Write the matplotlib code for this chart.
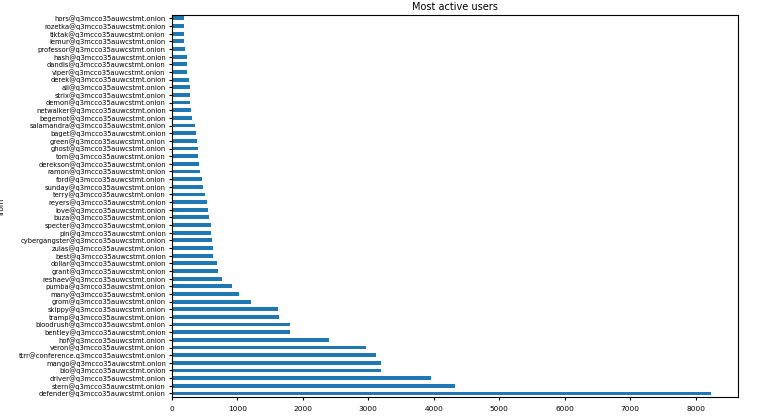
import matplotlib
matplotlib.use("Agg")
import matplotlib.pyplot as plt

names = ["defender", "stern", "driver", "bio", "mango", "ttrr@conference", "veron", "hof",
         "bentley", "bloodrush", "tramp", "skippy", "grom", "many", "pumba", "reshaev",
         "grant", "dollar", "best", "zulas", "cybergangster", "pin", "specter", "buza",
         "love", "reyers", "terry", "sunday", "ford", "ramon", "derekson", "tom", "ghost",
         "green", "baget", "salamandra", "begemot", "netwalker", "demon", "strix", "ali",
         "derek", "viper", "dandis", "hash", "professor", "lemur", "tiktak", "rozetka", "hors"]
values = [8240, 4320, 3960, 3200, 3200, 3120, 2960, 2400,
          1810, 1800, 1640, 1620, 1200, 1020, 920, 760,
          700, 690, 630, 620, 610, 590, 590, 570,
          555, 530, 500, 480, 465, 430, 410, 400, 390,
          375, 365, 350, 310, 290, 275, 275, 275,
          265, 225, 225, 225, 200, 190, 180, 180, 180]
labels = [(n + ".q3mcco35auwcstmt.onion") if "@" in n else (n + "@q3mcco35auwcstmt.onion") for n in names]

fig = plt.figure(figsize=(7.68, 4.16), dpi=100)
ax = fig.add_axes([0.224, 0.045, 0.737, 0.92])
ax.barh(range(len(values)), values, height=0.5, color="#1f77b4")
ax.set_yticks(range(len(values)))
ax.set_yticklabels(labels, fontsize=4.9)
ax.set_ylim(-0.5, len(values) - 0.5)
ax.set_xlim(0, 8650)
ax.set_xticks(range(0, 9000, 1000))
ax.tick_params(axis="x", labelsize=5.3, length=2.5)
ax.tick_params(axis="y", length=2.5, pad=2)
ax.set_ylabel("from", fontsize=5.3)
ax.yaxis.set_label_coords(-0.295, 0.5)
ax.set_title("Most active users", fontsize=7, pad=3)
fig.savefig("out.png", dpi=100)
